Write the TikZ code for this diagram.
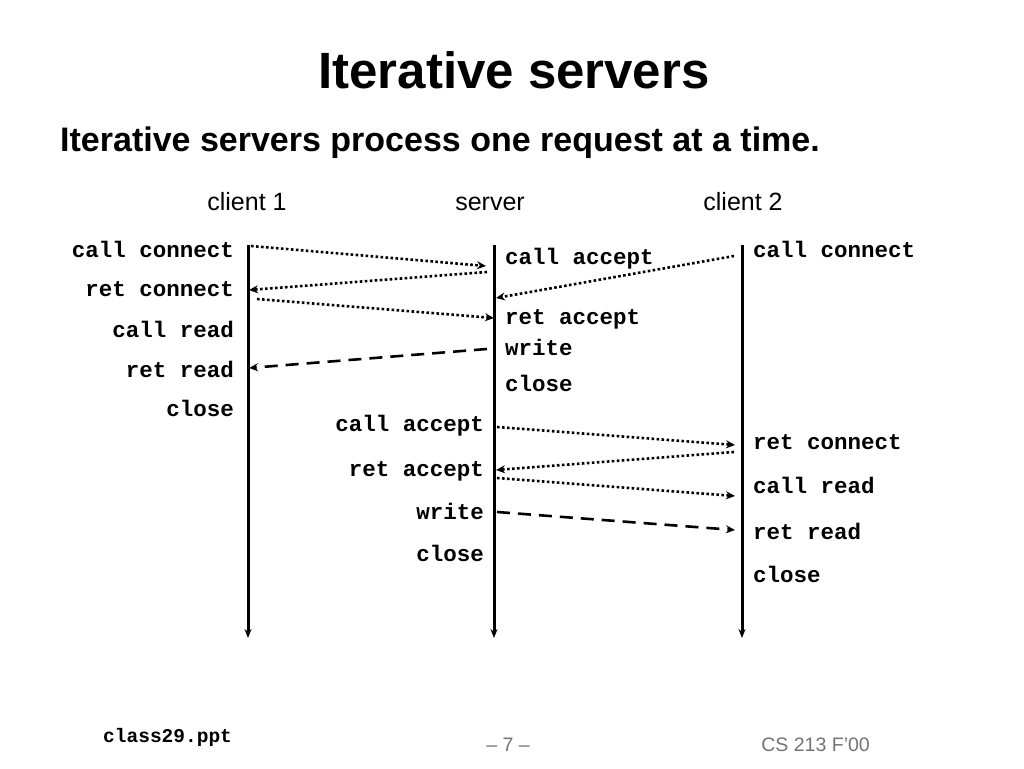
\documentclass[tikz,border=0pt]{standalone}
\usepackage{fontspec}
\setmainfont{Liberation Sans}
\newfontfamily\monof{Liberation Mono}
\usetikzlibrary{arrows.meta}
\begin{document}
\begin{tikzpicture}[x=1pt,y=-1pt,
  mono/.style={font=\monof\bfseries\fontsize{22.5}{24}\selectfont, inner sep=0pt},
  hdr/.style={font=\fontsize{25}{27}\selectfont, inner sep=0pt, anchor=base},
  life/.style={line width=3pt,-{Stealth[length=9pt,width=7pt]}},
  msg/.style={line width=2.6pt,dash pattern=on 2.6pt off 2.4pt,-{Stealth[length=9pt,width=8pt]}},
  dmsg/.style={line width=2.6pt,dash pattern=on 13pt off 8pt,-{Stealth[length=9pt,width=8pt]}}]
\useasboundingbox (0,0) rectangle (1024,768);
\node[font=\bfseries\fontsize{51}{56}\selectfont] (title) at (514,70) {Iterative servers};
\node[font=\bfseries\fontsize{34}{38}\selectfont, anchor=west, inner sep=0pt] (sub) at (60,143) {Iterative servers process one request at a time.};
\node[hdr] (h1) at (247,210) {client 1};
\node[hdr] (h2) at (490,210) {server};
\node[hdr] (h3) at (743,210) {client 2};
% lifelines
\coordinate (c1t) at (248,245); \coordinate (c1b) at (248,638);
\coordinate (st) at (494,245); \coordinate (sb) at (494,638);
\coordinate (c2t) at (742,245); \coordinate (c2b) at (742,638);
\draw[life] (c1t) -- (c1b);
\draw[life] (st) -- (sb);
\draw[life] (c2t) -- (c2b);
% labels
\foreach \t/\y [count=\i] in {call connect/249, ret connect/289, call read/329, ret read/369, close/408}
  \node[mono,anchor=east] (l\i) at (234,\y) {\t};
\foreach \t/\y [count=\i] in {call accept/259, ret accept/319, write/347, close/383}
  \node[mono,anchor=west] (sr\i) at (505,\y) {\t};
\foreach \t/\y [count=\i] in {call accept/426, ret accept/471, write/511, close/553}
  \node[mono,anchor=east] (sl\i) at (484,\y) {\t};
\foreach \t/\y [count=\i] in {call connect/249, ret connect/442, call read/485, ret read/531, close/574}
  \node[mono,anchor=west] (r\i) at (753,\y) {\t};
% messages
\coordinate (a1) at (251,246); \coordinate (b1) at (486,266);
\coordinate (a2) at (487,272); \coordinate (b2) at (249,290);
\coordinate (a3) at (734,256); \coordinate (b3) at (496,298);
\coordinate (a4) at (257,299); \coordinate (b4) at (494,318);
\coordinate (a5) at (487,349); \coordinate (b5) at (249,368);
\coordinate (a6) at (497,427); \coordinate (b6) at (735,445);
\coordinate (a7) at (734,452); \coordinate (b7) at (496,470);
\coordinate (a8) at (497,478); \coordinate (b8) at (735,496);
\coordinate (a9) at (497,512); \coordinate (b9) at (735,530);
\foreach \i in {1,2,3,4,6,7,8} \draw[msg] (a\i) -- (b\i);
\draw[dmsg] (a5) -- (b5);
\draw[dmsg] (a9) -- (b9);
% footer
\node[font=\monof\bfseries\fontsize{19.5}{21}\selectfont, anchor=west, inner sep=0pt] (f1) at (103,737) {class29.ppt};
\node[font=\fontsize{19.5}{21}\selectfont, text=black!55, inner sep=0pt] (f2) at (508,745) {– 7 –};
\node[font=\fontsize{19.5}{21}\selectfont, text=black!55, anchor=east, inner sep=0pt] (f3) at (870,745) {CS 213 F’00};
\end{tikzpicture}
\end{document}
